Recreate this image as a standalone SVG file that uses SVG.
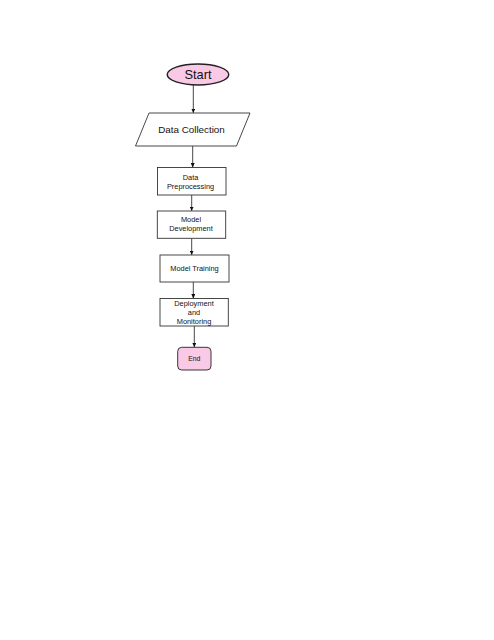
<svg xmlns="http://www.w3.org/2000/svg" width="494" height="640" viewBox="0 0 494 640">
<style>
.t{font-family:"Liberation Sans",Arial,sans-serif;fill:#111;text-anchor:middle}
.box{fill:#fff;stroke:#333;stroke-width:0.9}
.term{fill:#f9c9e6;stroke:#222}
.c{stroke:#333;stroke-width:0.9;fill:none;marker-end:url(#ah)}
</style>
<defs>
<marker id="ah" markerWidth="5" markerHeight="4" refX="4.5" refY="2" orient="auto" markerUnits="userSpaceOnUse">
<path d="M0,0 L4.5,2 L0,4 Z" fill="#111"/>
</marker>
</defs>
<rect width="494" height="640" fill="#fff"/>
<g id="connectors">
<line class="c" x1="193.3" y1="85" x2="193.3" y2="113"/>
<line class="c" x1="192.7" y1="146" x2="192.7" y2="167.5"/>
<line class="c" x1="191.7" y1="195" x2="191.7" y2="211"/>
<line class="c" x1="191.7" y1="238.3" x2="191.7" y2="255"/>
<line class="c" x1="193.3" y1="282" x2="193.3" y2="298.5"/>
<line class="c" x1="194.3" y1="326" x2="194.3" y2="347.3"/>
</g>
<g id="start">
<ellipse class="term" cx="198" cy="74.5" rx="30.8" ry="10.5" stroke-width="1.4"/>
<text class="t" x="198" y="79.3" font-size="12.8">Start</text>
</g>
<g id="data-collection">
<polygon class="box" points="149,113 250,113 236.5,146 135.5,146"/>
<text class="t" x="191.5" y="132.5" font-size="9.8">Data Collection</text>
</g>
<g id="data-preprocessing">
<rect class="box" x="157.5" y="167.5" width="68.5" height="27.5"/>
<text class="t" x="190.5" y="180" font-size="7.4">Data</text>
<text class="t" x="190.5" y="189.3" font-size="7.4">Preprocessing</text>
</g>
<g id="model-development">
<rect class="box" x="157.3" y="211" width="68.4" height="27.3"/>
<text class="t" x="191" y="222.3" font-size="7.4">Model</text>
<text class="t" x="191" y="231.3" font-size="7.4">Development</text>
</g>
<g id="model-training">
<rect class="box" x="160" y="255" width="69" height="27"/>
<text class="t" x="194.5" y="270.7" font-size="7.4">Model Training</text>
</g>
<g id="deployment">
<rect class="box" x="160" y="298.5" width="68.3" height="27.5"/>
<text class="t" x="194" y="305.7" font-size="7.4">Deployment</text>
<text class="t" x="194" y="315" font-size="7.4">and</text>
<text class="t" x="194" y="324.2" font-size="7.4">Monitoring</text>
</g>
<g id="end">
<rect class="term" x="177.7" y="347.3" width="33.3" height="22.7" rx="4" stroke-width="0.9"/>
<text class="t" x="194.3" y="360.6" font-size="6.8">End</text>
</g>
</svg>
